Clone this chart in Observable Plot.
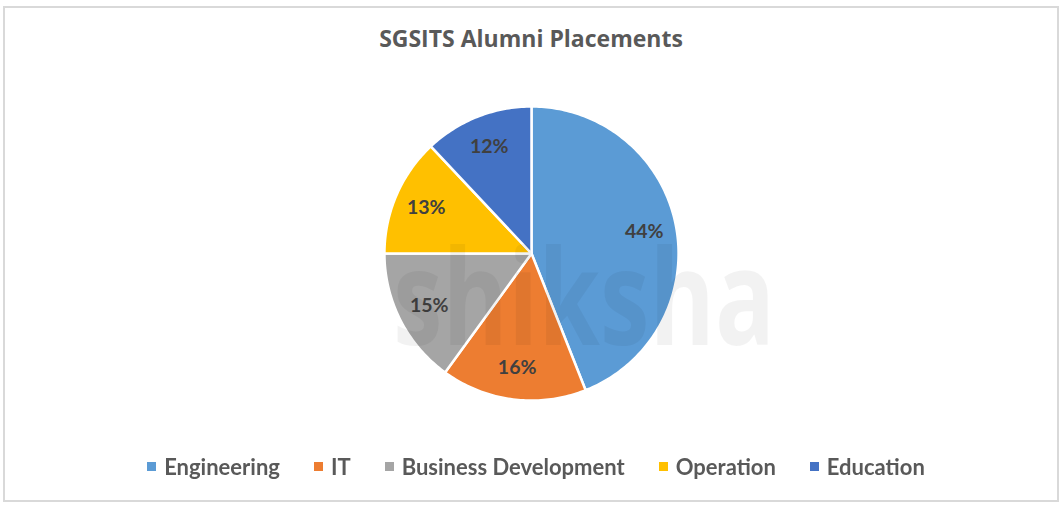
<!DOCTYPE html>
<html>
<head>
<meta charset="utf-8">
<script src="https://cdn.jsdelivr.net/npm/d3@7"></script>
<script src="https://cdn.jsdelivr.net/npm/@observablehq/plot@0.6"></script>
<style>
  html, body { margin: 0; padding: 0; background: #fff; }
  #wrap { position: relative; width: 1062px; height: 508px; overflow: hidden; background: #fff; }
  #frame { position: absolute; left: 3px; top: 6px; width: 1052px; height: 492px; border: 2px solid #d9d9d9; box-sizing: content-box; }
  #title { position: absolute; left: 0; width: 1062px; top: 22px; text-align: center;
           font-family: "Open Sans", sans-serif; font-weight: 700; font-size: 23px; color: #595959; }
  #wm { position: absolute; left: 0; top: 0; pointer-events: none; }
  #chart { position: absolute; left: 361px; top: 83px; }
  #legend { position: absolute; left: 0; width: 1072px; top: 453px; display: flex; justify-content: center; gap: 34px;
            font-family: "Lato", sans-serif; font-weight: 700; font-size: 22px; color: #595959; }
  .item { display: flex; align-items: center; }
  .sw { width: 9px; height: 9px; margin-right: 8px; }
</style>
</head>
<body>
<div id="wrap">
  <div id="frame"></div>
  <div id="title">SGSITS Alumni Placements</div>
  <div id="chart"></div>
  <canvas id="wm" width="1062" height="508"></canvas>
  <div id="legend"></div>
</div>
<script>
const categories = ["Engineering", "IT", "Business Development", "Operation", "Education"];
const shares = [44, 16, 15, 13, 12];
const colors = ["#5B9BD5", "#ED7D31", "#A5A5A5", "#FFC000", "#4472C4"];
const labels = ["44%", "16%", "15%", "13%", "12%"];

const total = d3.sum(shares);
const slices = [];
const labelPts = [];
let acc = 0;
categories.forEach((c, i) => {
  const a0 = acc / total * 2 * Math.PI;
  acc += shares[i];
  const a1 = acc / total * 2 * Math.PI;
  const n = Math.max(2, Math.ceil((a1 - a0) / (Math.PI / 180)));
  slices.push({cat: c, x: 0, y: 0});
  for (let k = 0; k <= n; k++) {
    const a = a0 + (a1 - a0) * k / n;
    slices.push({cat: c, x: Math.sin(a), y: Math.cos(a)});
  }
  slices.push({cat: c, x: 0, y: 0});
  const am = (a0 + a1) / 2;
  const r = 0.78;
  labelPts.push({cat: c, label: labels[i], x: r * Math.sin(am), y: r * Math.cos(am)});
});

const D = 1.156;
const chart = Plot.plot({
  width: 340, height: 340,
  margin: 0,
  x: {domain: [-D, D], axis: null},
  y: {domain: [-D, D], axis: null},
  color: {domain: categories, range: colors},
  marks: [
    Plot.line(slices, {x: "x", y: "y", z: "cat", fill: "cat", stroke: "#fff", strokeWidth: 2.5, strokeLinejoin: "round", curve: "linear"}),
    Plot.text(labelPts, {x: "x", y: "y", text: "label", fill: "#404040", fontSize: 19.5, fontWeight: 700, fontFamily: "Lato, sans-serif"})
  ]
});
document.getElementById("chart").appendChild(chart);

// faint background watermark (image, not chart text)
const cv = document.getElementById("wm");
const ctx = cv.getContext("2d");
ctx.fillStyle = "rgba(0,0,0,0.05)";
ctx.font = "bold 132px 'Open Sans'";
ctx.textBaseline = "alphabetic";
ctx.save();
ctx.translate(393, 345);
const w = ctx.measureText("shiksha").width;
ctx.scale(382 / w, 1);
ctx.fillText("shiksha", 0, 0);
ctx.restore();

const legend = document.getElementById("legend");
categories.forEach((c, i) => {
  const it = document.createElement("div");
  it.className = "item";
  const sw = document.createElement("span");
  sw.className = "sw";
  sw.style.background = colors[i];
  const t = document.createElement("span");
  t.textContent = c;
  it.appendChild(sw); it.appendChild(t);
  legend.appendChild(it);
});
</script>
</body>
</html>
